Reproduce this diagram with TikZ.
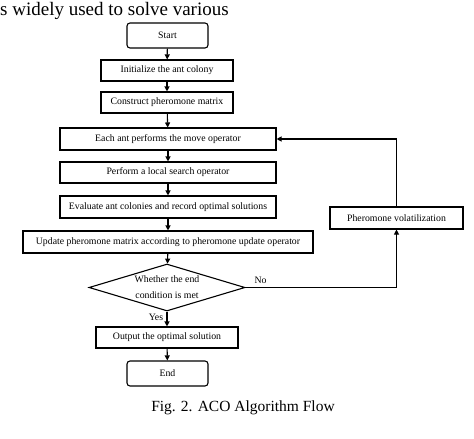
\documentclass[tikz,border=0pt]{standalone}
\usepackage{fontspec}
\setmainfont{Liberation Serif}
\usepackage{tikz}
\usetikzlibrary{arrows.meta, positioning, shapes.geometric}

\begin{document}
\begin{tikzpicture}[x=1pt, y=-1pt,
    stepbox/.style={rectangle, draw, line width=1.1pt, inner sep=0pt, font=\fontsize{9.8}{11}\selectfont},
    termbox/.style={stepbox, rounded corners=3pt, minimum width=81pt, minimum height=25pt},
    decbox/.style={diamond, aspect=3.3, draw, line width=1.1pt, inner sep=0pt, minimum width=156pt, minimum height=47pt, align=center, font=\fontsize{9.8}{16}\selectfont},
    flow/.style={-{Triangle[length=5pt, width=5pt]}, line width=1.1pt}]
    \useasboundingbox (0,0) rectangle (474,439);
    % page text above the figure
    \node[anchor=west, inner sep=0pt, font=\fontsize{19}{21}\selectfont] (pagetext) at (0,11) {s widely used to solve various};

    \node[termbox] (start) at (167.5,35.5) {Start};
    \node[stepbox, minimum width=132pt, minimum height=21pt] (init) at (167,70.5) {Initialize the ant colony};
    \node[stepbox, minimum width=132pt, minimum height=21pt] (matrix) at (167,102.5) {Construct pheromone matrix};
    \node[stepbox, minimum width=216pt, minimum height=22pt] (move) at (168,139) {Each ant performs the move operator};
    \node[stepbox, minimum width=216pt, minimum height=21pt] (search) at (168,172.5) {Perform a local search operator};
    \node[stepbox, minimum width=216pt, minimum height=22pt] (evaluate) at (168,207) {Evaluate ant colonies and record optimal solutions};
    \node[stepbox, minimum width=290pt, minimum height=22pt] (update) at (168,242) {Update pheromone matrix according to pheromone update operator};
    \node[decbox] (endcond) at (167,287.5) {Whether the end\\condition is met};
    \node[stepbox, minimum width=142pt, minimum height=21pt] (output) at (167,337.5) {Output the optimal solution};
    \node[termbox] (finish) at (167.5,373.5) {End};
    \node[stepbox, minimum width=133pt, minimum height=22pt] (volatile) at (396.5,218) {Pheromone volatilization};

    \draw[flow] (start) -- (init);
    \draw[flow] (init) -- (matrix);
    \draw[flow] (matrix) -- (move);
    \draw[flow] (move) -- (search);
    \draw[flow] (search) -- (evaluate);
    \draw[flow] (evaluate) -- (update);
    \draw[flow] (update) -- (endcond);
    \draw[flow] (endcond) -- node[pos=0.4, left, font=\fontsize{9.8}{11}\selectfont] {Yes} (output);
    \draw[flow] (output) -- (finish);
    \draw[flow] (endcond.east) -- node[pos=0.1, above, font=\fontsize{9.8}{11}\selectfont] {No} (endcond.east -| volatile.south) -- (volatile.south);
    \draw[flow] (volatile.north) |- (move.east);

    \node[font=\fontsize{15.5}{17}\selectfont] (caption) at (243,408) {Fig. 2. ACO Algorithm Flow};
\end{tikzpicture}
\end{document}
